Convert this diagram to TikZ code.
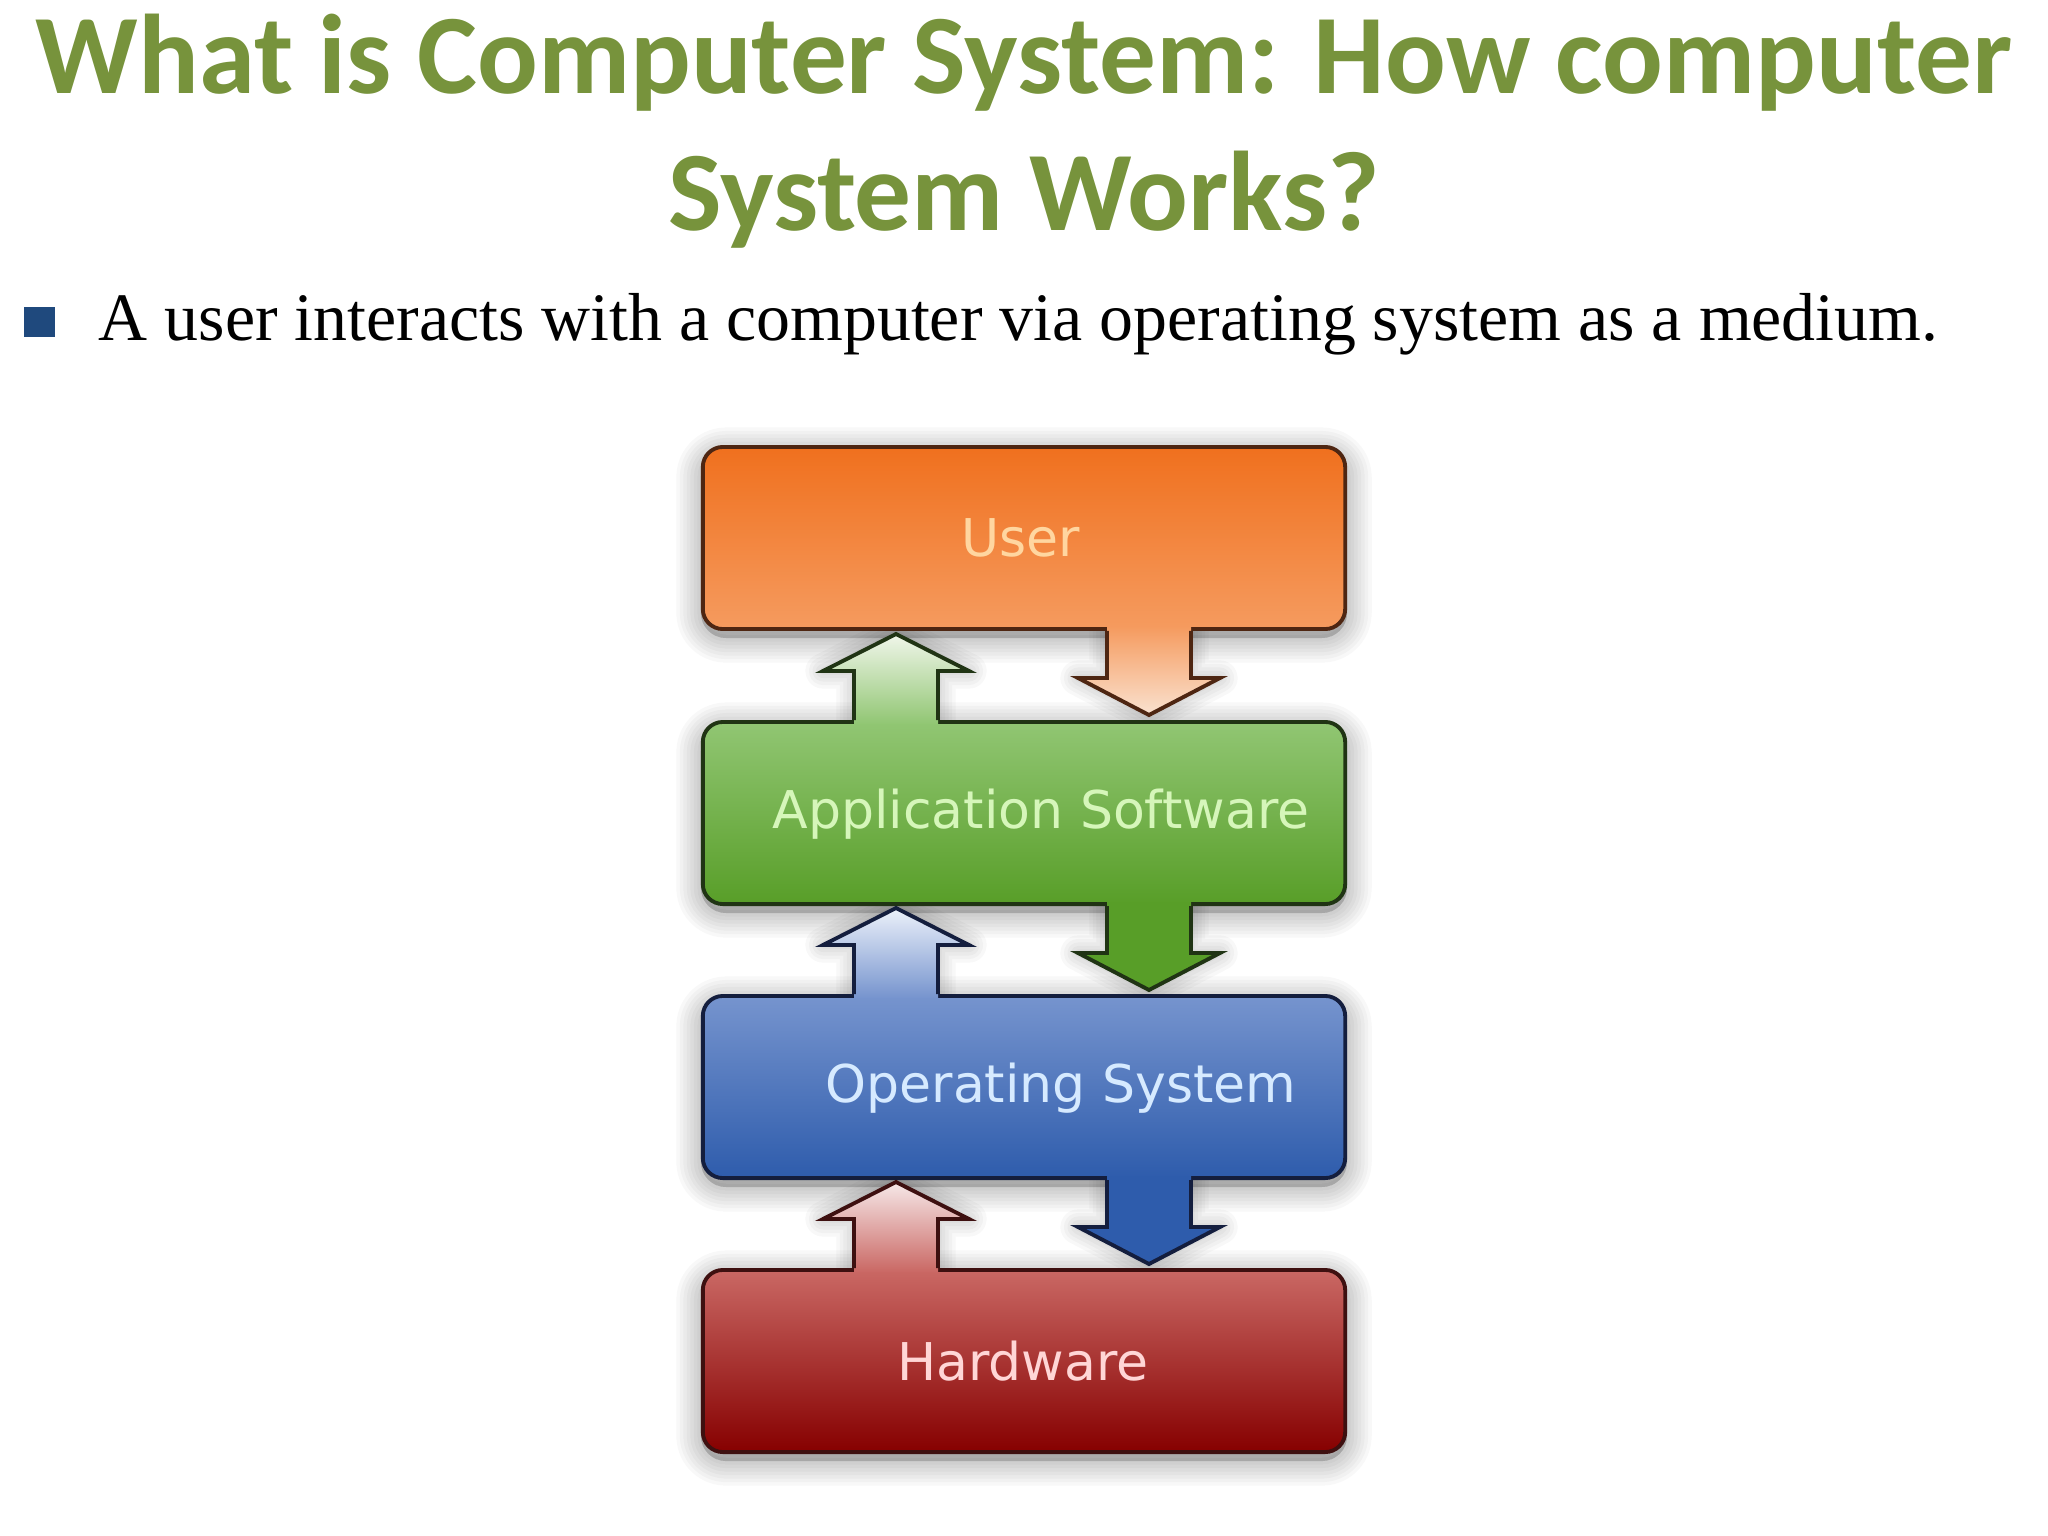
\documentclass[tikz,border=0pt]{standalone}
\usepackage{fontspec}
\setmainfont{Liberation Serif}
\newfontfamily\titlefont{Carlito}
\newfontfamily\tierfont{DejaVu Sans}
\usetikzlibrary{calc}

\pgfdeclarelayer{back}
\pgfsetlayers{back,main}

\definecolor{titlegreen}{RGB}{119,147,60}
\definecolor{bulletblue}{RGB}{31,73,125}
\definecolor{usrA}{RGB}{240,112,30}
\definecolor{usrB}{RGB}{241,102,0}
\definecolor{usrC}{RGB}{245,155,95}
\definecolor{usrEdge}{RGB}{78,38,18}
\definecolor{appA}{RGB}{145,198,115}
\definecolor{appB}{RGB}{95,165,46}
\definecolor{appC}{RGB}{88,158,40}
\definecolor{appEdge}{RGB}{32,52,20}
\definecolor{osA}{RGB}{118,148,206}
\definecolor{osB}{RGB}{56,100,180}
\definecolor{osC}{RGB}{46,92,172}
\definecolor{osEdge}{RGB}{20,30,62}
\definecolor{hwA}{RGB}{202,104,100}
\definecolor{hwB}{RGB}{145,8,8}
\definecolor{hwC}{RGB}{134,0,0}
\definecolor{hwEdge}{RGB}{62,16,16}
\definecolor{fadeUsr}{RGB}{250,226,208}
\definecolor{fadeApp}{RGB}{240,246,234}
\definecolor{fadeOs}{RGB}{236,241,250}
\definecolor{fadeHw}{RGB}{246,232,232}
\definecolor{usrText}{RGB}{255,214,160}
\definecolor{appText}{RGB}{214,246,186}
\definecolor{osText}{RGB}{214,234,255}
\definecolor{hwText}{RGB}{255,214,214}

% block arrows, hung on the tiers
\newcommand\arrowdn[1]{($(#1.south)+(83,-4)$) -- ++(0,51) -- ++(-29,0) -- ++(71,37) -- ++(71,-37) -- ++(-29,0) -- ++(0,-51) -- cycle}
\newcommand\arrowdnrim[1]{($(#1.south)+(83,0)$) -- ++(0,47) -- ++(-29,0) -- ++(71,37) -- ++(71,-37) -- ++(-29,0) -- ++(0,-47)}
\newcommand\arrowup[1]{($(#1.north)+(-170,4)$) -- ++(0,-53) -- ++(-31,0) -- ++(73,-37) -- ++(73,37) -- ++(-31,0) -- ++(0,53) -- cycle}
\newcommand\arrowuprim[1]{($(#1.north)+(-170,0)$) -- ++(0,-49) -- ++(-31,0) -- ++(73,-37) -- ++(73,37) -- ++(-31,0) -- ++(0,49)}

\begin{document}
\begin{tikzpicture}[x=0.01cm, y=-0.01cm, line join=miter]
	\tikzstyle{title} = [inner sep=0pt, text=titlegreen, font=\titlefont\bfseries\fontsize{32.2pt}{36pt}\selectfont]
	\tikzstyle{point} = [inner sep=0pt, font=\fontsize{19.3pt}{22pt}\selectfont]
	\tikzstyle{smudge} = [draw=black, fill=black, opacity=0.028, line join=round]
	\tikzstyle{tier} = [line width=1.1pt, rounded corners=0.2cm, minimum width=6.42cm, minimum height=1.82cm]
	\tikzstyle{lbl} = [inner sep=0pt, font=\tierfont\fontsize{14.8pt}{16pt}\selectfont]
	\tikzstyle{rim} = [line width=1.1pt]
	
	\useasboundingbox (0,0) rectangle (2048,1536);
	\begin{pgfonlayer}{back}
		\fill[white] (0,0) rectangle (2048,1536);
	\end{pgfonlayer}
	
	\node[title, anchor=base] (head1) at (1024,93) {What is Computer System: How computer};
	\node[title, anchor=base] (head2) at (1024,230) {System Works?};
	\fill[bulletblue] (24,307) rectangle (55,337);
	\node[point, anchor=base west] (point1) at (98,340) {A user interacts with a computer via operating system as a medium.};
	
	\node[tier, draw=usrEdge, top color=usrA, middle color=usrB, bottom color=usrC] (user) at (1024,538) {};
	\node[tier, draw=appEdge, top color=appA, middle color=appB, bottom color=appC] (app) at (1024,813) {};
	\node[tier, draw=osEdge, top color=osA, middle color=osB, bottom color=osC] (os) at (1024,1087) {};
	\node[tier, draw=hwEdge, top color=hwA, middle color=hwB, bottom color=hwC] (hw) at (1024,1361) {};
	
	% soft shadows
	\begin{pgfonlayer}{back}
		\foreach \n in {user,app,os,hw}
			\foreach \w in {2,4,...,14}
				\draw[smudge, line width=\w pt, rounded corners=0.25cm] ([yshift=-2pt]\n.north west) rectangle ([yshift=-2pt]\n.south east);
		\foreach \a/\b in {user/app, app/os, os/hw}
			\foreach \w in {2,4,...,10} {
				\draw[smudge, line width=\w pt] \arrowdn{\a};
				\draw[smudge, line width=\w pt] \arrowup{\b};
			}
	\end{pgfonlayer}
	
	\foreach \a/\b/\dt/\db/\ea/\ub/\ut/\eb in {user/app/usrC/fadeUsr/usrEdge/appA/fadeApp/appEdge, app/os/appC/appC/appEdge/osA/fadeOs/osEdge, os/hw/osC/osC/osEdge/hwA/fadeHw/hwEdge} {
		\shade[top color=\dt, bottom color=\db] \arrowdn{\a};
		\draw[rim, draw=\ea] \arrowdnrim{\a};
		\shade[top color=\ut, bottom color=\ub] \arrowup{\b};
		\draw[rim, draw=\eb] \arrowuprim{\b};
	}
	
	\node[lbl, text=usrText] (usrlbl) at (1021,538) {User};
	\node[lbl, text=appText] (applbl) at (1041,814) {Application Software};
	\node[lbl, text=osText] (oslbl) at (1061,1088) {Operating System};
	\node[lbl, text=hwText] (hwlbl) at (1023,1361) {Hardware};
\end{tikzpicture}
\end{document}
